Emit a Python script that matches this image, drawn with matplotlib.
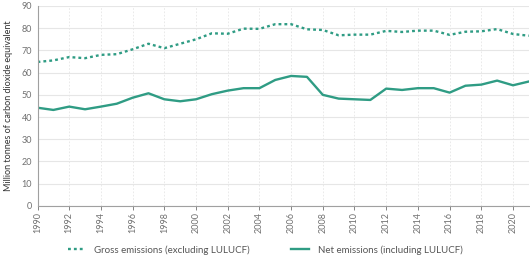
import numpy as np
import matplotlib.pyplot as plt

plt.rcParams['font.family'] = ['Lato', 'DejaVu Sans']

years = list(range(1990, 2022))
gross = [64.8, 65.5, 67.0, 66.5, 68.0, 68.3, 70.5, 73.0, 71.0, 73.0,
         75.0, 77.7, 77.5, 79.8, 79.7, 81.8, 81.8, 79.5, 79.2, 76.8,
         77.1, 77.1, 78.8, 78.3, 78.9, 78.9, 77.0, 78.4, 78.6, 79.6,
         77.4, 76.6]
net = [44.2, 43.2, 44.7, 43.5, 44.7, 46.0, 48.7, 50.7, 48.0, 47.1,
       48.0, 50.3, 51.9, 53.0, 53.0, 56.7, 58.5, 58.1, 50.0, 48.3,
       48.0, 47.7, 52.8, 52.2, 53.0, 53.0, 51.0, 54.1, 54.6, 56.4,
       54.3, 56.0]

teal = '#2f9c84'
grey = '#707070'

fig = plt.figure(figsize=(5.3, 2.72), dpi=100)
ax = fig.add_axes([0.0708, 0.243, 0.927, 0.735])

ax.plot(years, gross, color=teal, lw=1.7, ls=(0, (1.2, 1.3)),
        label='Gross emissions (excluding LULUCF)')
ax.plot(years, net, color=teal, lw=1.7,
        label='Net emissions (including LULUCF)')

ax.set_xlim(1990, 2021)
ax.set_ylim(0, 90)
ax.set_xticks(range(1990, 2021, 2))
ax.set_yticks(range(0, 91, 10))
ax.tick_params(axis='x', labelrotation=90, labelsize=6.5, colors=grey,
               length=3, width=0.6, pad=1.5)
ax.tick_params(axis='y', labelsize=6.5, colors=grey, length=0, pad=4)

ax.grid(axis='y', color='#e6e6e6', lw=0.8)
ax.grid(axis='x', color='#e6e6e6', lw=0.6, ls=(0, (2, 2)))
ax.set_axisbelow(True)
for s in ['top', 'right']:
    ax.spines[s].set_visible(False)
for s in ['left', 'bottom']:
    ax.spines[s].set_color('#a0a0a0')
    ax.spines[s].set_linewidth(0.8)

ax.set_ylabel('Million tonnes of carbon dioxide equivalent', fontsize=6.5,
              color='#333333', labelpad=6)

fig.legend(loc='center', bbox_to_anchor=(0.5, 0.081), ncol=2, frameon=False,
           fontsize=7, labelcolor='#555555', handlelength=1.8,
           columnspacing=4.3, handletextpad=0.9)

fig.savefig('out.png', dpi=100)
